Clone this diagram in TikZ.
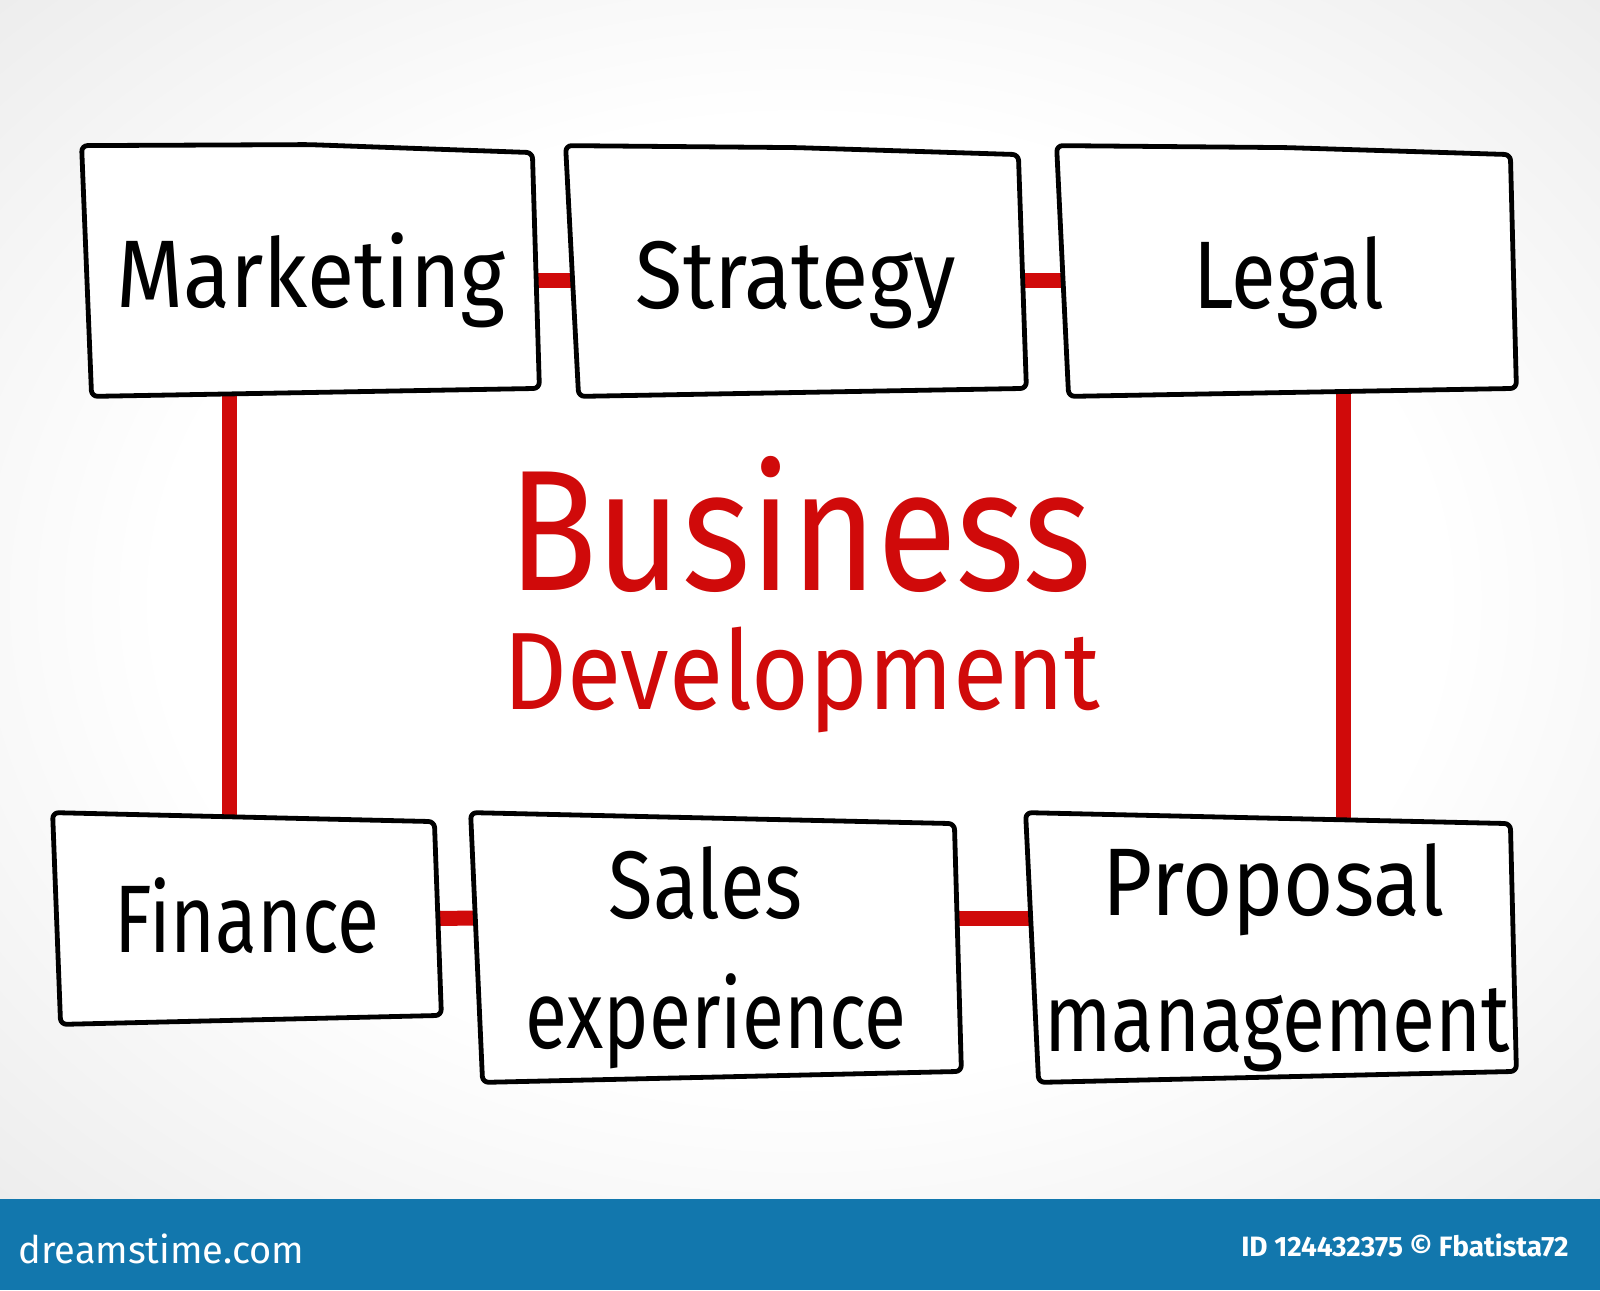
\documentclass[tikz,border=0pt]{standalone}
\usepackage{fontspec}
\setmainfont{Fira Sans}
\newfontfamily\handA[FakeStretch=0.9]{Fira Sans}
\newfontfamily\handB[FakeStretch=0.8]{Fira Sans}
\newfontfamily\handC[FakeStretch=0.85]{Fira Sans}
\newfontfamily\handD[FakeStretch=0.82]{Fira Sans}
\usetikzlibrary{calc}
\definecolor{bdred}{HTML}{D00A0A}
\definecolor{barblue}{HTML}{1277AD}
\definecolor{bggray}{HTML}{D2D2D2}
\pgfdeclarelayer{bg}
\pgfdeclarelayer{lines}
\pgfdeclarelayer{boxes}
\pgfsetlayers{bg,lines,boxes,main}
\pgfdeclareradialshading{bgshade}{\pgfpoint{0bp}{0bp}}{color(0bp)=(white); color(20bp)=(white); color(45bp)=(bggray!65); color(72bp)=(bggray)}
\tikzset{
  boxnode/.style={draw=none, inner sep=0pt, minimum width=#1},
  boxline/.style={draw=black, fill=white, line width=2.4pt, line join=round, rounded corners=3pt},
  redline/.style={draw=bdred, line width=7.5pt},
  lbl/.style={text=black, anchor=base, inner sep=0pt},
  fA/.style={font=\handA\fontsize{48}{58}\selectfont},
  fB/.style={font=\handB\fontsize{48}{58}\selectfont},
  fC/.style={font=\handC\fontsize{48}{58}\selectfont},
  fD/.style={font=\handD\fontsize{48}{58}\selectfont},
  titleA/.style={font=\handC\fontsize{86}{100}\selectfont, text=bdred, anchor=base, inner sep=0pt},
  titleB/.style={font=\handA\fontsize{55}{66}\selectfont, text=bdred, anchor=base, inner sep=0pt},
}
\begin{document}
\begin{tikzpicture}[x=0.5pt, y=-0.5pt]
\useasboundingbox (0,0) rectangle (1600,1290);
\begin{pgfonlayer}{bg}
  \shade[shading=bgshade] (0,0) rectangle (1600,1200);
  \fill[barblue] (0,1199) rectangle (1600,1290);
\end{pgfonlayer}

% box nodes (bounding rectangles)
\node[boxnode=228.5pt, minimum height=125pt] (mkt) at (310.5,271) {};
\node[boxnode=230pt, minimum height=125pt] (str) at (796,271) {};
\node[boxnode=229.5pt, minimum height=125pt] (leg) at (1286.5,271) {};
\node[boxnode=194pt, minimum height=105.5pt] (fin) at (247,918.5) {};
\node[boxnode=245pt, minimum height=134.5pt] (sal) at (716,947.5) {};
\node[boxnode=245pt, minimum height=134.5pt] (pro) at (1271,947.5) {};

% red connectors
\begin{pgfonlayer}{lines}
  \draw[redline] ([shift={(-12,9)}]mkt.east) -- ([shift={(12,9)}]str.west);
  \draw[redline] ([shift={(-12,9)}]str.east) -- ([shift={(12,9)}]leg.west);
  \draw[redline] ([shift={(-81.5,-12)}]mkt.south) -- ([shift={(-18,12)}]fin.north);
  \draw[redline] ([shift={(56.5,-12)}]leg.south) -- ([shift={(72,12)}]pro.north);
  \draw[redline] ([shift={(-12,0)}]fin.east) -- ([shift={(12,-29.5)}]sal.west);
  \draw[redline] ([shift={(-12,-29.5)}]sal.east) -- ([shift={(12,-29.5)}]pro.west);
\end{pgfonlayer}

% hand-drawn box outlines
\begin{pgfonlayer}{boxes}
  \draw[boxline] (mkt.north west) -- ([shift={(-2,-1)}]$(mkt.north west)!0.5!(mkt.north east)$) -- ([shift={(-7,7)}]mkt.north east)
     -- ([shift={(0,-8)}]mkt.south east) -- ([shift={(10,0)}]mkt.south west) -- cycle;
  \draw[boxline] (str.north west) -- ([shift={(0,2)}]$(str.north west)!0.5!(str.north east)$) -- ([shift={(-8,9)}]str.north east)
     -- ([shift={(0,-8)}]str.south east) -- ([shift={(13,0)}]str.south west) -- cycle;
  \draw[boxline] (leg.north west) -- ([shift={(0,2)}]$(leg.north west)!0.5!(leg.north east)$) -- ([shift={(-6,9)}]leg.north east)
     -- ([shift={(0,-8)}]leg.south east) -- ([shift={(12,0)}]leg.south west) -- cycle;
  \draw[boxline] (fin.north west) -- ([shift={(-7,9)}]fin.north east)
     -- ([shift={(0,-9)}]fin.south east) -- ([shift={(8,0)}]fin.south west) -- cycle;
  \draw[boxline] (sal.north west) -- ([shift={(-7,11)}]sal.north east)
     -- ([shift={(0,-11)}]sal.south east) -- ([shift={(12,0)}]sal.south west) -- cycle;
  \draw[boxline] (pro.north west) -- ([shift={(-6,11)}]pro.north east)
     -- ([shift={(0,-11)}]pro.south east) -- ([shift={(13,0)}]pro.south west) -- cycle;
\end{pgfonlayer}

% box labels
\node[lbl, fA] (mktT) at (311,307) {Marketing};
\node[lbl, fA] (strT) at (796,308) {Strategy};
\node[lbl, fC] (legT) at (1289,308) {Legal};
\node[lbl, fB] (finT) at (247,952) {Finance};
\node[lbl, fC] (salT1) at (706,918) {Sales};
\node[lbl, fB] (salT2) at (716,1048) {experience};
\node[lbl, fA] (proT1) at (1274,915) {Proposal};
\node[lbl, fD] (proT2) at (1277,1051) {management};

% title
\node[titleA] (titleA) at (800,590) {Business};
\node[titleB] (titleB) at (802,709) {Development};

% footer bar texts
\node[font=\fontsize{19}{22}\selectfont, text=white, anchor=base west, inner sep=0pt] (dt) at (18,1263) {dreamstime.com};
\node[font=\bfseries\fontsize{14}{16}\selectfont, text=white, anchor=base east, inner sep=0pt] (idt) at (1569,1256) {ID 124432375 © Fbatista72};
\end{tikzpicture}
\end{document}
